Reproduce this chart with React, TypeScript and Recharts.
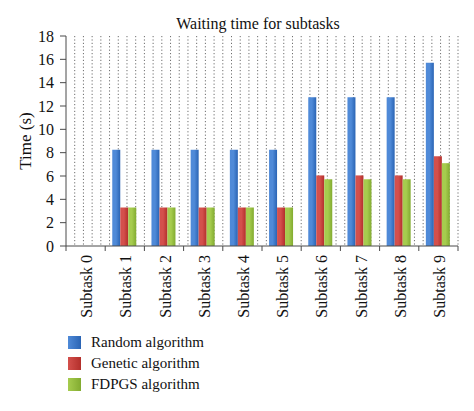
import { BarChart, Bar, XAxis, YAxis, CartesianGrid, Legend } from "recharts";

const categories = [
  "Subtask 0",
  "Subtask 1",
  "Subtask 2",
  "Subtask 3",
  "Subtask 4",
  "Subtask 5",
  "Subtask 6",
  "Subtask 7",
  "Subtask 8",
  "Subtask 9",
];
const randomAlg = [0, 8.25, 8.25, 8.25, 8.25, 8.25, 12.75, 12.75, 12.75, 15.7];
const geneticAlg = [0, 3.3, 3.3, 3.3, 3.3, 3.3, 6.05, 6.05, 6.05, 7.7];
const fdpgsAlg = [0, 3.3, 3.3, 3.3, 3.3, 3.3, 5.72, 5.72, 5.72, 7.1];
const yTicks = [0, 2, 4, 6, 8, 10, 12, 14, 16, 18];

const SERIES = [
  { key: "random", name: "Random algorithm", light: "#4f8ad8", dark: "#2a64b4" },
  { key: "genetic", name: "Genetic algorithm", light: "#d4504c", dark: "#b32f2b" },
  { key: "fdpgs", name: "FDPGS algorithm", light: "#a6cc4e", dark: "#82ab30" },
];

const rows = categories.map((name, i) => ({
  name,
  random: randomAlg[i],
  genetic: geneticAlg[i],
  fdpgs: fdpgsAlg[i],
}));

const FONT = "'Liberation Serif', 'Times New Roman', serif";
const AXIS = "#4a4a4a";

// rotated category label plus tick marks at the band edges
const SubtaskTick = (props: any) => {
  const { x, y, payload, index } = props;
  const half = payload?.offset ?? 19.6;
  const last = index === categories.length - 1;
  return (
    <g>
      <line x1={x - half} y1={y - 8} x2={x - half} y2={y - 3} stroke={AXIS} />
      {last && <line x1={x + half} y1={y - 8} x2={x + half} y2={y - 3} stroke={AXIS} />}
      <text
        transform={`translate(${x + 1},${y + 1}) rotate(-90)`}
        textAnchor="end"
        dominantBaseline="central"
        fontFamily={FONT}
        fontSize={16}
        fill="#111"
      >
        {payload.value}
      </text>
    </g>
  );
};

const LegendList = () => (
  <div style={{ fontFamily: FONT, fontSize: 15, color: "#111" }}>
    {SERIES.map((s) => (
      <div key={s.key} style={{ display: "flex", alignItems: "center", height: 21 }}>
        <span
          style={{
            width: 13,
            height: 13,
            marginRight: 10,
            background: `linear-gradient(to right, ${s.light}, ${s.dark})`,
          }}
        />
        {s.name}
      </div>
    ))}
  </div>
);

export default function App() {
  return (
    <div style={{ position: "absolute", left: 0, top: 0, width: 474, height: 411, background: "#fff" }}>
      <div
        style={{
          position: "absolute",
          left: 58,
          top: 14,
          width: 400,
          textAlign: "center",
          fontFamily: FONT,
          fontSize: 16,
          lineHeight: "19px",
          color: "#111",
        }}
      >
        Waiting time for subtasks
      </div>
      <BarChart
        width={474}
        height={411}
        data={rows}
        margin={{ top: 36, right: 16, left: 0, bottom: 95 }}
        barCategoryGap="18%"
        barGap={0}
      >
        <defs>
          {SERIES.map((s) => (
            <linearGradient key={s.key} id={`grad-${s.key}`} x1="0" y1="0" x2="1" y2="0">
              <stop offset="0%" stopColor={s.light} />
              <stop offset="45%" stopColor={s.light} />
              <stop offset="100%" stopColor={s.dark} />
            </linearGradient>
          ))}
        </defs>
        <CartesianGrid
          horizontal={false}
          stroke="#6e6e6e"
          strokeDasharray="1.2 2.2"
          verticalCoordinatesGenerator={({ offset }: any) =>
            Array.from({ length: 45 }, (_, i) => offset.left + ((i + 1) * offset.width) / 45)
          }
        />
        <XAxis
          dataKey="name"
          height={70}
          interval={0}
          tickLine={false}
          axisLine={{ stroke: AXIS }}
          tick={<SubtaskTick />}
        />
        <YAxis
          width={66}
          domain={[0, 18]}
          ticks={yTicks}
          interval={0}
          tickSize={6}
          tickMargin={6}
          axisLine={{ stroke: AXIS }}
          tickLine={{ stroke: AXIS }}
          tick={{ fontFamily: FONT, fontSize: 16, fill: "#111" }}
          label={{
            value: "Time (s)",
            angle: -90,
            position: "insideLeft",
            offset: 25,
            style: { textAnchor: "middle", fontFamily: FONT, fontSize: 17, fill: "#111" },
          }}
        />
        <Legend
          layout="horizontal"
          verticalAlign="middle"
          align="center"
          wrapperStyle={{ left: 68, top: 332, width: 200 }}
          content={<LegendList />}
        />
        {SERIES.map((s) => (
          <Bar
            key={s.key}
            dataKey={s.key}
            name={s.name}
            fill={`url(#grad-${s.key})`}
            isAnimationActive={false}
          />
        ))}
      </BarChart>
    </div>
  );
}
